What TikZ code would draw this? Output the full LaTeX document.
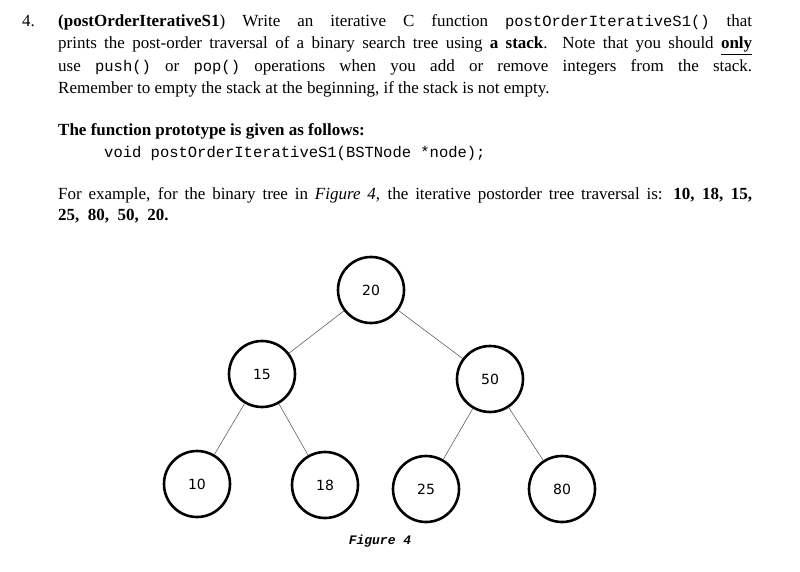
\documentclass[tikz,border=0pt]{standalone}
\usepackage{fontspec}
\setmainfont{Liberation Serif}
\setmonofont{Liberation Mono}
\newfontfamily\nodefont{DejaVu Sans}
\begin{document}
\begin{tikzpicture}[x=1pt,y=-1pt,
  tn/.style={circle,draw=black,line width=2.6pt,minimum size=66pt,inner sep=0pt,font=\nodefont\fontsize{14}{16}\selectfont},
  ed/.style={draw=black!70,line width=0.5pt},
  txt/.style={anchor=base west,inner sep=0pt,font=\fontsize{17}{20}\selectfont}]
\useasboundingbox[fill=white] (0,0) rectangle (800,572);
\node[txt] (num) at (22,27) {4.};
\node[txt] (l1) at (58,27) {\makebox[694pt][s]{\textbf{(postOrderIterativeS1}) Write an iterative C function {\ttfamily\fontsize{15.5}{18}\selectfont postOrderIterativeS1()} that}};
\node[txt] (l2) at (58,49) {\makebox[694pt][s]{prints the post-order traversal of a binary search tree using \textbf{a stack}. Note that you should \textbf{\underline{only}}}};
\node[txt] (l3) at (58,72) {\makebox[694pt][s]{use {\ttfamily\fontsize{15.5}{18}\selectfont push()} or {\ttfamily\fontsize{15.5}{18}\selectfont pop()} operations when you add or remove integers from the stack.}};
\node[txt] (l4) at (58,94) {Remember to empty the stack at the beginning, if the stack is not empty.};
\node[txt] (l5) at (58,136) {\textbf{The function prototype is given as follows:}};
\node[txt,font=\ttfamily\fontsize{15.5}{18}\selectfont] (l6) at (104,158) {void postOrderIterativeS1(BSTNode *node);};
\node[txt] (l7) at (58,200) {\makebox[694pt][s]{For example, for the binary tree in \textit{Figure 4}, the iterative postorder tree traversal is: \textbf{10, 18, 15,}}};
\node[txt] (l8) at (58,221) {\textbf{25,\ \ 80,\ \ 50,\ \ 20.}};
\node (n20) [tn] at (371,290) {20};
\node (n15) [tn] at (262,374) {15};
\node (n50) [tn] at (490,379) {50};
\node (n10) [tn] at (197,484) {10};
\node (n18) [tn] at (325,485) {18};
\node (n25) [tn] at (426,489) {25};
\node (n80) [tn] at (562,489) {80};
\draw[ed] (n20) -- (n15);
\draw[ed] (n20) -- (n50);
\draw[ed] (n15) -- (n10);
\draw[ed] (n15) -- (n18);
\draw[ed] (n50) -- (n25);
\draw[ed] (n50) -- (n80);
\node (cap) at (380,541) {\ttfamily\bfseries\itshape\fontsize{13}{15}\selectfont Figure 4};
\end{tikzpicture}
\end{document}
